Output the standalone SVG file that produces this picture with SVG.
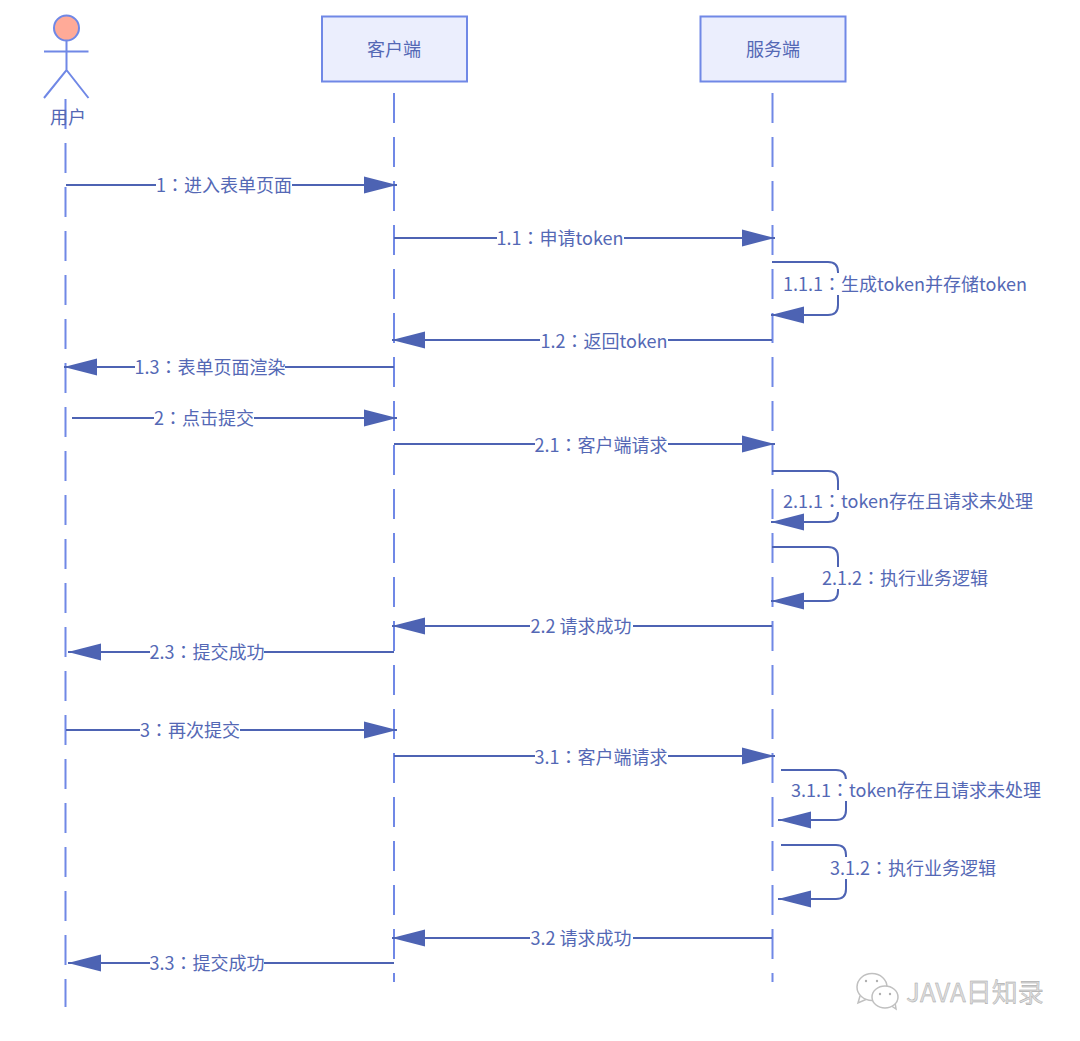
<svg xmlns="http://www.w3.org/2000/svg" width="1080" height="1041" viewBox="0 0 1080 1041">
<defs>
<marker id="arrow" markerUnits="userSpaceOnUse" markerWidth="34" markerHeight="18" refX="33" refY="9" orient="auto"><path d="M0 0.5L33 9L0 17.5Z" fill="#4d63b3"/></marker>
</defs>
<style>
text{font-family:"Noto Sans CJK SC","Noto Sans",sans-serif;font-size:18px;fill:#5468b5;text-anchor:middle}
.c{font-family:"Noto Sans CJK TC","Noto Sans",sans-serif}
.life{stroke:#7088e6;stroke-width:2;fill:none;stroke-dasharray:30 14}
.msg{stroke:#4d63b3;stroke-width:2;fill:none;marker-end:url(#arrow)}
.bg{fill:#fff}
.box{fill:#ebeefd;stroke:#7088e6;stroke-width:2}
.actor{stroke:#7088e6;stroke-width:2;fill:none}
text.wm{font-size:26px;fill:#dcdcdc;stroke:#a0a0a0;stroke-width:.4;text-anchor:start}
.wi{fill:#fff;stroke:#c0c0c0;stroke-width:1.500}
.we{fill:#b0b0b0}
</style>
<rect width="1080" height="1041" fill="#fff"/>
<g id="lifelines">
<path class="life" d="M65.5 99V1007"/>
<path class="life" d="M394 93V982"/>
<path class="life" d="M772.500 93V982"/>
</g>
<g id="user"><circle cx="66.500" cy="28" r="12.500" fill="#ffaa98" stroke="#7088e6" stroke-width="2"/><path class="actor" d="M66.500 40.500V70M44 51.500H88.500M44 98L66.500 70L88.500 98"/><text x="68" y="124">用户</text></g>
<g id="client"><rect class="box" x="322" y="16.500" width="145" height="65"/><text x="394" y="56">客户端</text></g>
<g id="server"><rect class="box" x="700.500" y="16.500" width="145" height="65"/><text x="773" y="56">服务端</text></g>
<g id="connectors">
<path class="msg" d="M66 185H397"/>
<path class="msg" d="M394 238H775"/>
<path class="msg" d="M772 262H828Q838 262 838 272V305Q838 315 828 315H771"/>
<path class="msg" d="M772 340H392"/>
<path class="msg" d="M394 367H64"/>
<path class="msg" d="M72 418H397"/>
<path class="msg" d="M394 444H775"/>
<path class="msg" d="M772 471H828Q838 471 838 481V512Q838 522 828 522H771"/>
<path class="msg" d="M772 547H828Q838 547 838 557V591Q838 601 828 601H771"/>
<path class="msg" d="M772 626H392"/>
<path class="msg" d="M394 652H68"/>
<path class="msg" d="M66 730H397"/>
<path class="msg" d="M394 756H775"/>
<path class="msg" d="M781 770H836Q846 770 846 780V810Q846 820 836 820H778"/>
<path class="msg" d="M781 845H836Q846 845 846 855V889Q846 899 836 899H778"/>
<path class="msg" d="M772 938H392"/>
<path class="msg" d="M394 963H68"/>
</g>
<g id="labels" transform="translate(0 1)">
<rect class="bg" x="156" y="173" width="136" height="22"/><text x="224" y="191">1<tspan class="c">：</tspan>进入表单页面</text>
<rect class="bg" x="497" y="226" width="127" height="22"/><text x="560" y="244">1.1<tspan class="c">：</tspan>申请token</text>
<rect class="bg" x="783" y="272" width="245" height="22"/><text x="905" y="290">1.1.1<tspan class="c">：</tspan>生成token并存储token</text>
<rect class="bg" x="540" y="328" width="128" height="22"/><text x="604" y="347">1.2<tspan class="c">：</tspan>返回token</text>
<rect class="bg" x="135" y="355" width="150" height="22"/><text x="210" y="373">1.3<tspan class="c">：</tspan>表单页面渲染</text>
<rect class="bg" x="154" y="406" width="100" height="22"/><text x="204" y="424">2<tspan class="c">：</tspan>点击提交</text>
<rect class="bg" x="535" y="432" width="133" height="22"/><text x="601" y="451">2.1<tspan class="c">：</tspan>客户端请求</text>
<rect class="bg" x="784" y="489" width="249" height="22"/><text x="908" y="507">2.1.1<tspan class="c">：</tspan>token存在且请求未处理</text>
<rect class="bg" x="823" y="566" width="165" height="22"/><text x="905" y="584">2.1.2<tspan class="c">：</tspan>执行业务逻辑</text>
<rect class="bg" x="530" y="614" width="103" height="22"/><text x="581" y="632">2.2 请求成功</text>
<rect class="bg" x="150" y="640" width="114" height="22"/><text x="207" y="658">2.3<tspan class="c">：</tspan>提交成功</text>
<rect class="bg" x="140" y="718" width="100" height="22"/><text x="190" y="736">3<tspan class="c">：</tspan>再次提交</text>
<rect class="bg" x="535" y="744" width="133" height="22"/><text x="601" y="763">3.1<tspan class="c">：</tspan>客户端请求</text>
<rect class="bg" x="791" y="778" width="250" height="22"/><text x="916" y="796">3.1.1<tspan class="c">：</tspan>token存在且请求未处理</text>
<rect class="bg" x="830" y="856" width="165" height="22"/><text x="913" y="874">3.1.2<tspan class="c">：</tspan>执行业务逻辑</text>
<rect class="bg" x="530" y="926" width="103" height="22"/><text x="581" y="944">3.2 请求成功</text>
<rect class="bg" x="150" y="951" width="114" height="22"/><text x="207" y="969">3.3<tspan class="c">：</tspan>提交成功</text>
</g>
<g id="watermark">
<path class="wi" d="M860 996L858 1003L867 999"/>
<ellipse class="wi" cx="872" cy="987" rx="15" ry="13.500"/>
<circle class="we" cx="866" cy="981" r="1.200"/><circle class="we" cx="877" cy="981" r="1.200"/>
<path class="wi" d="M890 1005L896 1009L895 1002"/>
<ellipse class="wi" cx="885" cy="997" rx="13" ry="11"/>
<circle class="we" cx="880" cy="994" r="1.200"/><circle class="we" cx="890" cy="994" r="1.200"/>
<text class="wm" x="906" y="1002">JAVA日知录</text>
</g>
</svg>
